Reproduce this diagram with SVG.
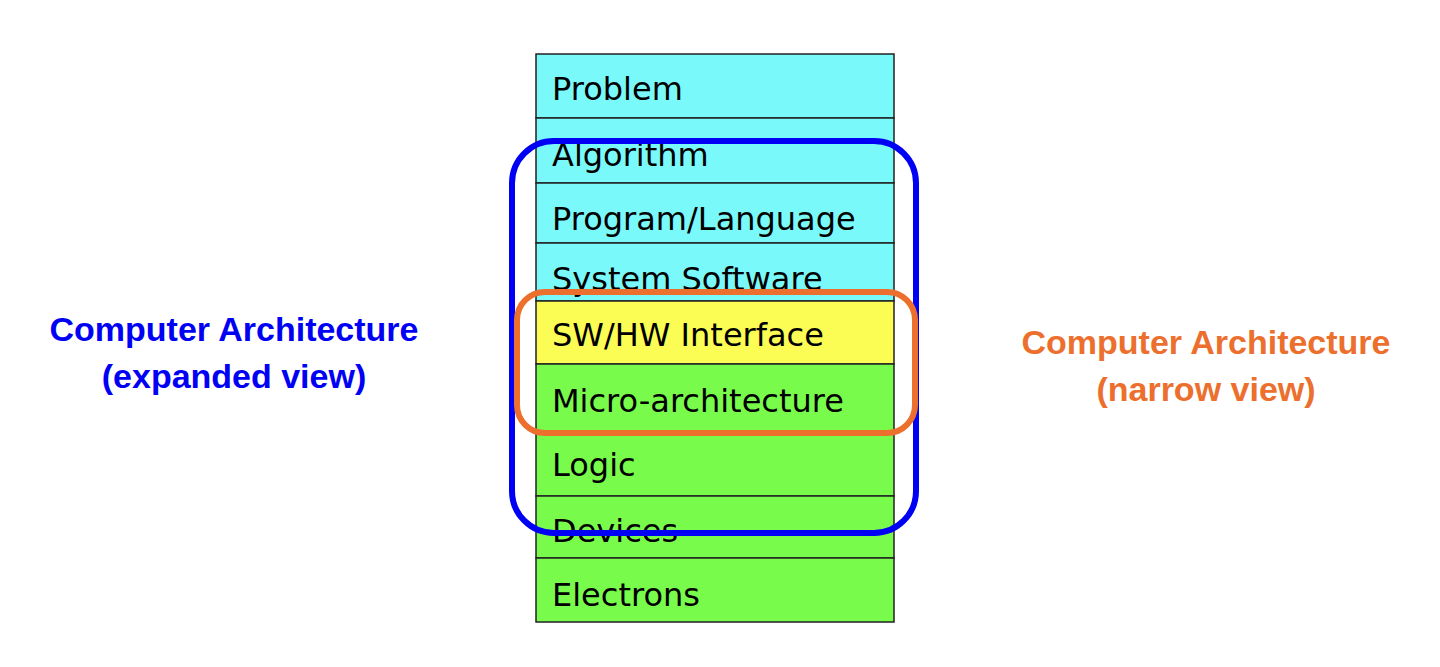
<svg xmlns="http://www.w3.org/2000/svg" width="1440" height="667" viewBox="0 0 1440 667">
<style>
.c{fill:#7af9fb;stroke:#222;stroke-width:1.5}
.y{fill:#fcfd54;stroke:#222;stroke-width:1.5}
.g{fill:#79fb4c;stroke:#222;stroke-width:1.5}
.t{font-family:"DejaVu Sans",sans-serif;font-size:32px;fill:#000}
.lb{font-family:"Liberation Sans",Arial,sans-serif;font-weight:bold;font-size:34px;text-anchor:middle}
</style>
<rect width="1440" height="667" fill="#fff"/>
<g id="problem"><rect class="c" x="536" y="54" width="358" height="64"/><text class="t" x="552" y="100">Problem</text></g>
<g id="algorithm"><rect class="c" x="536" y="118" width="358" height="65"/><text class="t" x="552" y="166">Algorithm</text></g>
<g id="program"><rect class="c" x="536" y="183" width="358" height="60"/><text class="t" x="552" y="230">Program/Language</text></g>
<g id="syssw"><rect class="c" x="536" y="243" width="358" height="58"/><text class="t" x="552" y="290">System Software</text></g>
<g id="swhw"><rect class="y" x="536" y="301" width="358" height="63"/><text class="t" x="552" y="346">SW/HW Interface</text></g>
<g id="micro"><rect class="g" x="536" y="364" width="358" height="68"/><text class="t" x="552" y="412">Micro-architecture</text></g>
<g id="logic"><rect class="g" x="536" y="432" width="358" height="64"/><text class="t" x="552" y="476">Logic</text></g>
<g id="devices"><rect class="g" x="536" y="496" width="358" height="62"/><text class="t" x="552" y="542">Devices</text></g>
<g id="electrons"><rect class="g" x="536" y="558" width="358" height="64"/><text class="t" x="552" y="606">Electrons</text></g>
<g id="expanded"><rect x="512" y="141" width="404" height="392" rx="42" fill="none" stroke="#0000f5" stroke-width="6"/>
<text class="lb" x="234" y="341" fill="#0000f5">Computer Architecture</text><text class="lb" x="234" y="388" fill="#0000f5">(expanded view)</text></g>
<g id="narrow"><rect x="517" y="292" width="398" height="141" rx="28" fill="none" stroke="#ec6f2d" stroke-width="6"/>
<text class="lb" x="1206" y="354" fill="#ec6f2d">Computer Architecture</text><text class="lb" x="1206" y="401" fill="#ec6f2d">(narrow view)</text></g>
<g id="connectors"/>
</svg>
